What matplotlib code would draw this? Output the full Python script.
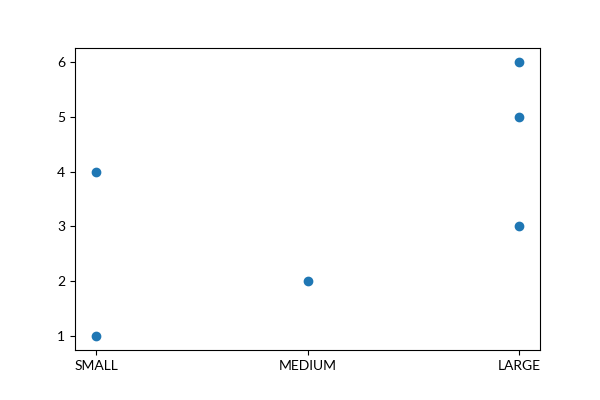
import matplotlib
matplotlib.use("Agg")
import matplotlib.pyplot as plt

plt.rcParams['font.family'] = ['Lato', 'DejaVu Sans']

sizes = ['SMALL', 'MEDIUM', 'SMALL', 'LARGE', 'LARGE', 'LARGE']
values = [4, 2, 1, 6, 5, 3]

fig = plt.figure(figsize=(6, 4), dpi=100)
ax = fig.add_subplot(111)
fig.subplots_adjust(left=0.125, right=0.9, bottom=0.125, top=0.88)
ax.scatter(sizes, values, color='#1f77b4')
fig.savefig('out.png', dpi=100)
